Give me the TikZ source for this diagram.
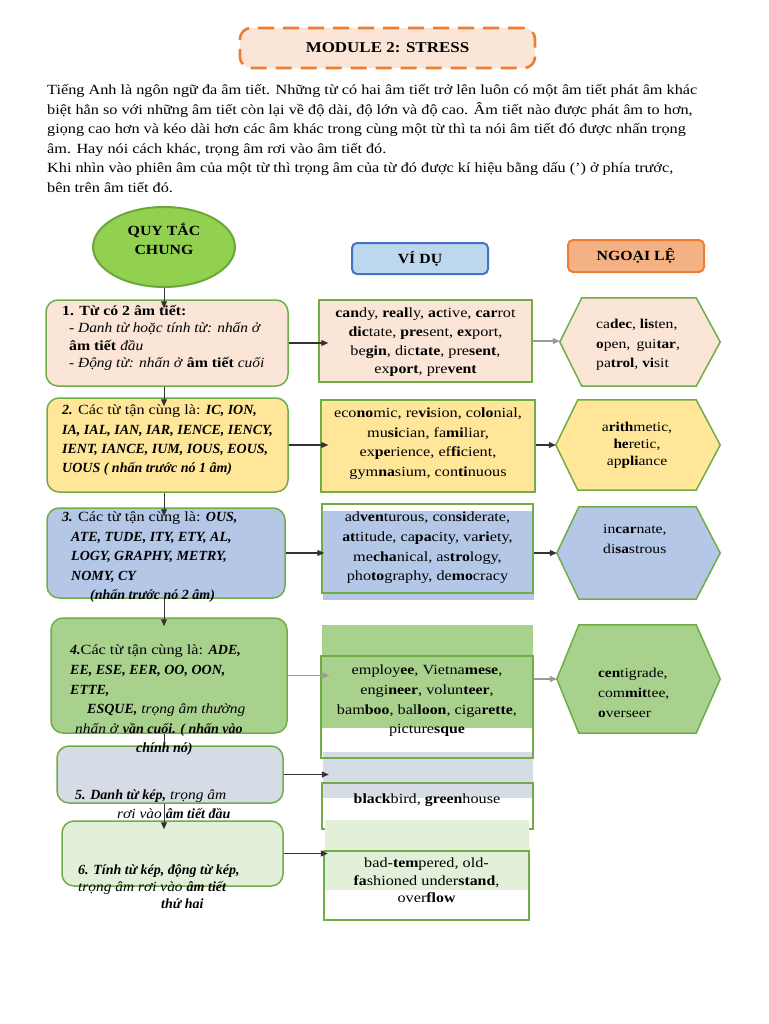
\documentclass[tikz,border=0pt]{standalone}
\usepackage{fontspec}
\setmainfont{Liberation Serif}[FakeStretch=1.16, BoldFeatures={FakeStretch=1.13}, ItalicFeatures={FakeStretch=1.10}, BoldItalicFeatures={FakeStretch=1.0}]
\usetikzlibrary{arrows.meta,shapes.geometric,calc}
\definecolor{peach}{HTML}{FBE5D6}
\definecolor{yel}{HTML}{FFE699}
\definecolor{blu}{HTML}{B4C7E7}
\definecolor{grn}{HTML}{A9D18E}
\definecolor{gry}{HTML}{D6DCE5}
\definecolor{lgrn}{HTML}{E2F0D9}
\definecolor{bord}{HTML}{70AD47}
\definecolor{orgD}{HTML}{ED7D31}
\definecolor{orgL}{HTML}{F4B183}
\definecolor{bluD}{HTML}{4472C4}
\definecolor{bluL}{HTML}{BDD7EE}
\definecolor{ellF}{HTML}{92D050}
\definecolor{ellD}{HTML}{6AA83A}
\definecolor{conD}{HTML}{333333}
\definecolor{conL}{HTML}{9A9A9A}
\newcommand{\myBI}[1]{\textbf{\textit{#1}}}
\newcommand{\myHex}[2]{\draw[hexs,fill=#2] (#1.west) -- ($(#1.north west)+(22,0)$) -- ($(#1.north east)+(-24,0)$) -- (#1.east) -- ($(#1.south east)+(-24,0)$) -- ($(#1.south west)+(22,0)$) -- cycle;}
\tikzset{
  lbox/.style={draw=bord, line width=1.5pt, rounded corners=12pt, inner sep=0pt},
  mbox/.style={draw=bord, line width=1.5pt, inner sep=0pt},
  hexs/.style={draw=bord, line width=1.5pt},
  hnode/.style={inner sep=0pt},
  hdr/.style={rounded corners=5pt, line width=2pt, inner sep=0pt, font=\bfseries\fontsize{14}{16}\selectfont},
  tl/.style={anchor=north west, align=left, inner sep=0pt},
  tc/.style={anchor=north, align=center, inner sep=0pt},
  vconn/.style={draw=conD, line width=1pt, -{Triangle[length=7pt,width=6pt]}, shorten >=-9pt},
  hconn/.style={line width=1.2pt, -{Triangle[length=7pt,width=6pt]}},
  titlebox/.style={draw=orgD, line width=2.6pt, dash pattern=on 16pt off 9pt, rounded corners=11pt, fill=peach, inner sep=0pt, font=\bfseries\fontsize{15}{18}\selectfont}
}
\begin{document}
\begin{tikzpicture}[x=1pt,y=-1pt]
\path[fill=white] (0,0) rectangle (768,1024);
\useasboundingbox (0,0) rectangle (768,1024);

% title
\node[titlebox, minimum width=295, minimum height=40] (title) at (387.5,48) {MODULE 2: STRESS};

% intro paragraph
\node[tl, font=\fontsize{14}{19.5}\selectfont] (intro) at (47,81) {\strut Tiếng Anh là ngôn ngữ đa âm tiết. Những từ có hai âm tiết trở lên luôn có một âm tiết phát âm khác\\
biệt hẳn so với những âm tiết còn lại về độ dài, độ lớn và độ cao. Âm tiết nào được phát âm to hơn,\\
giọng cao hơn và kéo dài hơn các âm khác trong cùng một từ thì ta nói âm tiết đó được nhấn trọng\\
âm. Hay nói cách khác, trọng âm rơi vào âm tiết đó.\\
Khi nhìn vào phiên âm của một từ thì trọng âm của từ đó được kí hiệu bằng dấu (') ở phía trước,\\
bên trên âm tiết đó.};

% headers
\node[ellipse, draw=ellD, line width=2pt, fill=ellF, minimum width=142, minimum height=80, inner sep=0pt] (ell) at (164,247) {};
\node[tc, font=\bfseries\fontsize{14}{19}\selectfont] (elltxt) at (164,222) {\strut QUY TẮC\\CHUNG};
\node[hdr, draw=bluD, fill=bluL, minimum width=136, minimum height=31] (vidu) at (420,258.5) {VÍ DỤ};
\node[hdr, draw=orgD, fill=orgL, minimum width=136, minimum height=32] (ngoaile) at (636,256) {NGOẠI LỆ};

% left boxes
\node[lbox, fill=peach, minimum width=242, minimum height=86] (b1) at (167,343) {};
\node[lbox, fill=yel, minimum width=241, minimum height=94] (b2) at (167.5,445) {};
\node[lbox, fill=blu, minimum width=238, minimum height=90] (b3) at (166,553) {};
\node[lbox, fill=grn, minimum width=236, minimum height=115] (b4) at (169,675.5) {};
\node[lbox, fill=gry, minimum width=226, minimum height=57] (b5) at (170,774.5) {};
\node[lbox, fill=lgrn, minimum width=221, minimum height=65] (b6) at (172.5,853.5) {};

% middle boxes (with their stray fills)
\node[mbox, fill=peach, minimum width=213, minimum height=82] (m1) at (425.5,341) {};
\node[mbox, fill=yel, minimum width=214, minimum height=92] (m2) at (428,446) {};
\node[fill=blu, inner sep=0pt, minimum width=211, minimum height=89] (m3fill) at (428.5,555.5) {};
\node[mbox, minimum width=211, minimum height=89] (m3) at (427.5,548.5) {};
\node[fill=grn, inner sep=0pt, minimum width=211, minimum height=103] (m4fill) at (427.5,676) {};
\node[fill=gry, inner sep=0pt, minimum width=210, minimum height=11] (m4strip) at (428,757.5) {};
\node[mbox, minimum width=212, minimum height=102] (m4) at (427,707) {};
\node[fill=gry, inner sep=0pt, minimum width=210, minimum height=38] (m5fill) at (428,779) {};
\node[mbox, minimum width=211, minimum height=46] (m5) at (427.5,806) {};
\node[fill=lgrn, inner sep=0pt, minimum width=204, minimum height=70] (m6fill) at (427,855) {};
\node[mbox, minimum width=205, minimum height=69] (m6) at (426.5,885.5) {};

% hexagons
\node[hnode, minimum width=160, minimum height=88] (h1) at (640,342) {};
\node[hnode, minimum width=164, minimum height=90] (h2) at (638,445) {};
\node[hnode, minimum width=163, minimum height=92] (h3) at (638.5,553) {};
\node[hnode, minimum width=163, minimum height=108] (h4) at (638.5,679) {};
\myHex{h1}{peach}
\myHex{h2}{yel}
\myHex{h3}{blu}
\myHex{h4}{grn}

% left texts
\node[tl, font=\fontsize{14}{17.2}\selectfont] (t1) at (62,303.5) {\strut\textbf{1. Từ có 2 âm tiết:}\\
\hspace*{7pt}\textit{- Danh từ hoặc tính từ: nhấn ở}\\
\hspace*{7pt}\textbf{âm tiết} \textit{đầu}\\
\hspace*{7pt}\textit{- Động từ: nhấn ở} \textbf{âm tiết} \textit{cuối}};
\node[tl, font=\fontsize{14}{19.3}\selectfont] (t2) at (62,401) {\strut\myBI{2.} Các từ tận cùng là: \myBI{IC, ION,}\\
\myBI{IA, IAL, IAN, IAR, IENCE, IENCY,}\\
\myBI{IENT, IANCE, IUM, IOUS, EOUS,}\\
\myBI{UOUS ( nhấn trước nó 1 âm)}};
\node[tl, font=\fontsize{14}{19.5}\selectfont] (t3) at (62,508) {\strut\myBI{3.} Các từ tận cùng là: \myBI{OUS,}\\
\hspace*{9pt}\myBI{ATE, TUDE, ITY, ETY, AL,}\\
\hspace*{9pt}\myBI{LOGY, GRAPHY, METRY,}\\
\hspace*{9pt}\myBI{NOMY, CY}\\
\hspace*{28pt}\myBI{(nhấn trước nó 2 âm)}};
\node[tl, font=\fontsize{14}{19.6}\selectfont] (t4) at (70,641) {\strut\myBI{4.}Các từ tận cùng là: \myBI{ADE,}\\
\myBI{EE, ESE, EER, OO, OON,}\\
\myBI{ETTE,}\\
\hspace*{17pt}\myBI{ESQUE,} \textit{trọng âm thường}\\
\hspace*{5pt}\textit{nhấn ở} \myBI{vần cuối. ( nhấn vào}\\
\hspace*{66pt}\myBI{chính nó)}};
\node[tl, font=\fontsize{14}{19}\selectfont] (t5) at (75,786) {\strut\myBI{5. Danh từ kép,} \textit{trọng âm}\\
\hspace*{42pt}\textit{rơi vào} \myBI{âm tiết đầu}};
\node[tl, font=\fontsize{14}{17}\selectfont] (t6) at (78,862.6) {\strut\myBI{6. Tính từ kép, động từ kép,}\\
\textit{trọng âm rơi vào} \myBI{âm tiết}\\
\hspace*{83pt}\myBI{thứ hai}};

% middle texts
\node[tc, font=\fontsize{14}{18.7}\selectfont] (x1) at (425.5,304.4) {\strut\textbf{can}dy, \textbf{real}ly, \textbf{ac}tive, \textbf{car}rot\\
\textbf{dic}tate, \textbf{pre}sent, \textbf{ex}port,\\
be\textbf{gin}, dic\textbf{tate}, pre\textbf{sent},\\
ex\textbf{port}, pre\textbf{vent}};
\node[tc, font=\fontsize{14}{19.6}\selectfont] (x2) at (428,403.8) {\strut eco\textbf{no}mic, re\textbf{vi}sion, co\textbf{lo}nial,\\
mu\textbf{si}cian, fa\textbf{mi}liar,\\
ex\textbf{pe}rience, ef\textbf{fi}cient,\\
gym\textbf{na}sium, con\textbf{ti}nuous};
\node[tc, font=\fontsize{14}{19.7}\selectfont] (x3) at (427.5,507.7) {\strut ad\textbf{ven}turous, con\textbf{si}derate,\\
\textbf{at}titude, ca\textbf{pa}city, va\textbf{ri}ety,\\
me\textbf{cha}nical, as\textbf{tro}logy,\\
pho\textbf{to}graphy, de\textbf{mo}cracy};
\node[tc, font=\fontsize{14}{19.7}\selectfont] (x4) at (427,660.7) {\strut employ\textbf{ee}, Vietna\textbf{mese},\\
engi\textbf{neer}, volun\textbf{teer},\\
bam\textbf{boo}, bal\textbf{loon}, ciga\textbf{rette},\\
picture\textbf{sque}};
\node[tc, font=\fontsize{14}{19.5}\selectfont] (x5) at (427,789.9) {\strut\textbf{black}bird, \textbf{green}house};
\node[tc, font=\fontsize{14}{17.5}\selectfont] (x6) at (426.5,855.3) {\strut bad-\textbf{tem}pered, old-\\
\textbf{fa}shioned under\textbf{stand},\\
over\textbf{flow}};

% right texts
\node[tl, font=\fontsize{13.5}{19.5}\selectfont] (y1) at (596,315) {\strut ca\textbf{dec}, \textbf{lis}ten,\\
\textbf{o}pen,\, gui\textbf{tar},\\
pa\textbf{trol}, \textbf{vi}sit};
\node[tc, font=\fontsize{13.5}{17}\selectfont] (y2) at (637,419) {\strut a\textbf{rith}metic,\\
\textbf{he}retic,\\
ap\textbf{pli}ance};
\node[tl, font=\fontsize{13.5}{20}\selectfont] (y3) at (603,519) {\strut in\textbf{car}nate,\\
di\textbf{sa}strous};
\node[tl, font=\fontsize{13.5}{20}\selectfont] (y4) at (598,663) {\strut\textbf{cen}tigrade,\\
com\textbf{mit}tee,\\
\textbf{o}verseer};

% vertical connectors
\draw[vconn] (ell.south) -- (ell.south |- b1.north);
\draw[vconn] (ell.south |- b1.south) -- (ell.south |- b2.north);
\draw[vconn] (ell.south |- b2.south) -- (ell.south |- b3.north);
\draw[vconn] (ell.south |- b3.south) -- (ell.south |- b4.north);
\draw[draw=conD, line width=1pt] (ell.south |- b4.south) -- (ell.south |- b5.north);
\draw[vconn] (ell.south |- b5.south) -- (ell.south |- b6.north);

% horizontal connectors
\draw[hconn, draw=conD, shorten >=-10pt] (b1.east) -- (b1.east -| m1.west);
\draw[hconn, draw=conL] (m1.east) -- (m1.east -| h1.west);
\draw[hconn, draw=conD, shorten >=-8pt] (b2.east) -- (b2.east -| m2.west);
\draw[hconn, draw=conD] (h2.west -| m2.east) -- (h2.west);
\draw[hconn, draw=conD, shorten >=-3pt] (b3.east) -- (b3.east -| m3.west);
\draw[hconn, draw=conD] (h3.west -| m3.east) -- (h3.west);
\draw[hconn, draw=conL, shorten >=-9pt] (b4.east) -- (b4.east -| m4.west);
\draw[hconn, draw=conL] (h4.west -| m4.east) -- (h4.west);
\draw[hconn, draw=conD, shorten >=-6pt] (b5.east) -- (b5.east -| m5fill.west);
\draw[hconn, draw=conD, shorten >=-3pt] (b6.east) -- (b6.east -| m6fill.west);
\end{tikzpicture}
\end{document}
